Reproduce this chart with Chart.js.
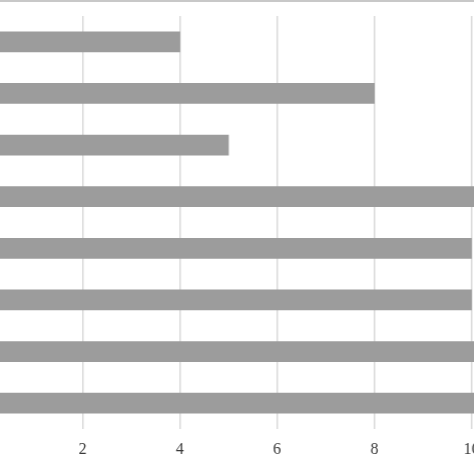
<!DOCTYPE html>
<html>
<head>
<meta charset="utf-8">
<script src="https://cdn.jsdelivr.net/npm/chart.js@4.4.0/dist/chart.umd.min.js"></script>
<style>
html,body{margin:0;padding:0;background:#fff;overflow:hidden;width:474px;height:474px;}
#topline{position:absolute;left:0;top:0;width:474px;height:2px;background:#c8c8c8;z-index:2;}
#wrap{position:absolute;left:-30.3px;top:0;width:617.8px;height:474px;}
</style>
</head>
<body>
<div id="topline"></div>
<div id="wrap"><canvas id="c"></canvas></div>
<script>
const categories = ["A", "B", "C", "D", "E", "F", "G", "H"];
const values = [4, 8, 5, 11, 10, 10, 11, 11];
const xTicks = [0, 2, 4, 6, 8, 10, 12];

new Chart(document.getElementById('c'), {
  type: 'bar',
  data: {
    labels: categories,
    datasets: [{
      data: values,
      backgroundColor: '#9c9c9c',
      borderWidth: 0,
      barThickness: 20
    }]
  },
  options: {
    indexAxis: 'y',
    responsive: true,
    maintainAspectRatio: false,
    animation: false,
    events: [],
    layout: { padding: { left: 10, right: 20, top: 16, bottom: 3 } },
    plugins: { legend: { display: false }, tooltip: { enabled: false } },
    scales: {
      y: { display: false },
      x: {
        min: xTicks[0],
        max: xTicks[xTicks.length - 1],
        afterBuildTicks: (s) => { s.ticks = xTicks.map(v => ({ value: v })); },
        grid: { color: '#d9d9d9', lineWidth: 1.5, drawTicks: false },
        border: { display: false },
        ticks: {
          color: '#3a3a3a',
          padding: 11.4,
          font: { family: "'Liberation Serif', 'Times New Roman', 'DejaVu Serif', serif", size: 16 }
        }
      }
    }
  }
});
</script>
</body>
</html>
